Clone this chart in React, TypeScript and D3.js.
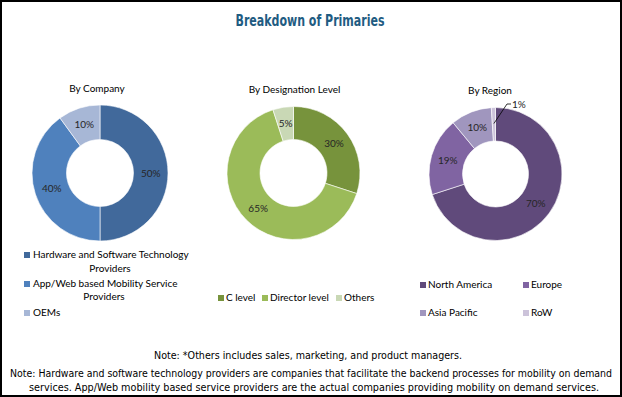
import React from "react";
import * as d3 from "d3";

const companyLabels = ["Hardware and Software Technology Providers", "App/Web based Mobility Service Providers", "OEMs"];
const companyValues = [50, 40, 10];
const companyColors = ["#41699B", "#4F81BD", "#A7B7D6"];

const designationLabels = ["C level", "Director level", "Others"];
const designationValues = [30, 65, 5];
const designationColors = ["#77933C", "#9BBB59", "#C9D8B5"];

const regionLabels = ["North America", "Europe", "Asia Pacific", "RoW"];
const regionValues = [70, 19, 10, 1];
const regionColors = ["#604A7B", "#8064A2", "#A096BE", "#CCC3DA"];

const FONT = "Lato, 'Open Sans', sans-serif";
const NOTE_FONT = "'Liberation Sans Narrow', 'DejaVu Sans Condensed', 'Liberation Sans', sans-serif";

type DonutProps = {
  cx: number; cy: number; ro: number; ri: number;
  values: number[]; colors: string[];
  skipLabel?: number[];
};

function Donut({ cx, cy, ro, ri, values, colors, skipLabel = [] }: DonutProps) {
  const pie = d3.pie<number>().sort(null).value((d) => d);
  const arcs = pie(values);
  const arc = d3.arc<d3.PieArcDatum<number>>().innerRadius(ri).outerRadius(ro);
  const labelArc = d3.arc<d3.PieArcDatum<number>>().innerRadius((ri + ro) / 2).outerRadius((ri + ro) / 2);
  return (
    <g transform={`translate(${cx},${cy})`}>
      {arcs.map((a, i) => (
        <path key={i} d={arc(a) || ""} fill={colors[i]} stroke="#ffffff" strokeWidth={0.6} />
      ))}
      {arcs.map((a, i) => {
        if (skipLabel.includes(i)) return null;
        const [x, y] = labelArc.centroid(a);
        return (
          <text key={"l" + i} x={x} y={y + 3.5} textAnchor="middle" fontSize={10} fontFamily={FONT} fill="#262626">
            {`${values[i]}%`}
          </text>
        );
      })}
    </g>
  );
}

export default function App() {
  const W = 622, H = 397;
  // region leader for the 1% slice
  const rPie = d3.pie<number>().sort(null).value((d) => d)(regionValues);
  const rowArc = rPie[3];
  const rowMid = (rowArc.startAngle + rowArc.endAngle) / 2;
  const rcx = 495.5, rcy = 174, rro = 66.5;
  const lx0 = rcx + Math.sin(rowMid) * (rro - 16);
  const ly0 = rcy - Math.cos(rowMid) * (rro - 16);

  const sq = 6;
  return (
    <svg width={W} height={H} style={{ position: "absolute", left: 0, top: 0, background: "#fff" }}>
      <rect x={0} y={0} width={W} height={H} fill="#ffffff" />
      <rect x={1} y={1} width={W - 2} height={H - 2} fill="none" stroke="#000" strokeWidth={2} />
      <text x={310} y={26} textAnchor="middle" fontSize={16} fontWeight="bold" fontFamily={NOTE_FONT}
        fill="#1F5C82" textLength={149} lengthAdjust="spacingAndGlyphs">Breakdown of Primaries</text>

      <text x={97} y={92} textAnchor="middle" fontSize={10} fontFamily={FONT} fill="#000">By Company</text>
      <text x={294.5} y={93} textAnchor="middle" fontSize={10} fontFamily={FONT} fill="#000">By Designation Level</text>
      <text x={490} y={94} textAnchor="middle" fontSize={10} fontFamily={FONT} fill="#000">By Region</text>

      <Donut cx={100} cy={173} ro={68} ri={33.5} values={companyValues} colors={companyColors} />
      <Donut cx={293.5} cy={173} ro={66.5} ri={33.5} values={designationValues} colors={designationColors} />
      <Donut cx={rcx} cy={rcy} ro={rro} ri={33} values={regionValues} colors={regionColors} skipLabel={[3]} />

      <polyline points={`${lx0},${ly0} 507,104 511,104`} fill="none" stroke="#000" strokeWidth={0.8} />
      <text x={512} y={108} fontSize={10} fontFamily={FONT} fill="#262626">{`${regionValues[3]}%`}</text>

      {/* Company legend */}
      <rect x={24} y={252} width={sq} height={sq} fill={companyColors[0]} />
      <text x={33} y={258} fontSize={10} fontFamily={FONT} fill="#000">Hardware and Software Technology</text>
      <text x={110} y={272} textAnchor="middle" fontSize={10} fontFamily={FONT} fill="#000">Providers</text>
      <rect x={24} y={281} width={sq} height={sq} fill={companyColors[1]} />
      <text x={33} y={287} fontSize={10} fontFamily={FONT} fill="#000">App/Web based Mobility Service</text>
      <text x={104} y={300} textAnchor="middle" fontSize={10} fontFamily={FONT} fill="#000">Providers</text>
      <rect x={24} y={310} width={sq} height={sq} fill={companyColors[2]} />
      <text x={33} y={316} fontSize={10} fontFamily={FONT} fill="#000">{companyLabels[2]}</text>

      {/* Designation legend */}
      {designationLabels.map((l, i) => {
        const xs = [218, 262, 336];
        return (
          <g key={l}>
            <rect x={xs[i]} y={295} width={sq} height={sq} fill={designationColors[i]} />
            <text x={xs[i] + 8} y={301} fontSize={10} fontFamily={FONT} fill="#000">{l}</text>
          </g>
        );
      })}

      {/* Region legend */}
      {regionLabels.map((l, i) => {
        const x = i % 2 === 0 ? 420 : 523;
        const y = i < 2 ? 288 : 316;
        return (
          <g key={l}>
            <rect x={x} y={y - 6} width={sq} height={sq} fill={regionColors[i]} />
            <text x={x + 8} y={y} fontSize={10} fontFamily={FONT} fill="#000">{l}</text>
          </g>
        );
      })}

      <text x={308} y={359} textAnchor="middle" fontSize={10.5} fontFamily={NOTE_FONT} fill="#000"
        textLength={308} lengthAdjust="spacingAndGlyphs">Note:  *Others includes sales, marketing, and product managers.</text>
      <text x={311} y={377} textAnchor="middle" fontSize={10.5} fontFamily={NOTE_FONT} fill="#000"
        textLength={602} lengthAdjust="spacingAndGlyphs">Note: Hardware and software technology providers are companies that facilitate the backend processes for mobility on demand</text>
      <text x={314} y={391} textAnchor="middle" fontSize={10.5} fontFamily={NOTE_FONT} fill="#000"
        textLength={570} lengthAdjust="spacingAndGlyphs">services. App/Web mobility based service providers are the actual companies providing mobility on demand services.</text>
    </svg>
  );
}
